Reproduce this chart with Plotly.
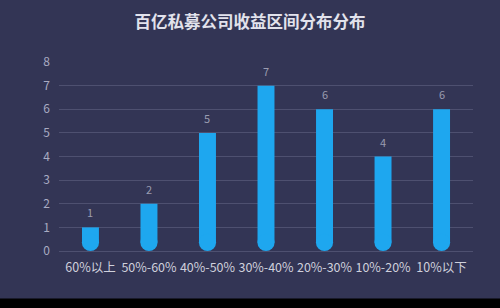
import plotly.graph_objects as go

categories = ["60%以上", "50%-60%", "40%-50%", "30%-40%", "20%-30%", "10%-20%", "10%以下"]
values = [1, 2, 5, 7, 6, 4, 6]
y_ticks = [0, 1, 2, 3, 4, 5, 6, 7, 8]

BG = "#333555"
BAR = "#1ea7ef"
R = 0.365  # radius of rounded bar bottom, in data units

fig = go.Figure()
fig.add_trace(go.Bar(
    x=categories, y=[v - R for v in values], base=R,
    marker=dict(color=BAR, line=dict(width=0)),
    width=0.29, hoverinfo="skip",
))
fig.add_trace(go.Scatter(
    x=categories, y=[R] * len(values), mode="markers",
    marker=dict(symbol="circle", size=17.2, color=BAR, line=dict(width=0)),
    hoverinfo="skip",
))

annotations = [
    dict(x=c, y=v, text=str(v), showarrow=False, yshift=15, xref="x", yref="y",
         font=dict(color="#9a9cb0", size=11, family="Noto Sans CJK SC"))
    for c, v in zip(categories, values)
]

fig.update_layout(
    width=500, height=308,
    paper_bgcolor=BG, plot_bgcolor=BG,
    margin=dict(l=59, r=27, t=62, b=57),
    showlegend=False,
    bargap=0.71,
    annotations=annotations,
    title=dict(text="<b>百亿私募公司收益区间分布分布</b>", x=0.5, xanchor="center",
               y=1 - 22 / 308, yanchor="middle",
               font=dict(family="Noto Sans CJK SC", size=16.5, color="#e2e2ec")),
    xaxis=dict(showgrid=False, zeroline=False, showline=False, ticks="",
               ticklabelstandoff=7,
               tickfont=dict(family="Noto Sans CJK SC", size=12.5, color="#cfd0dc")),
    yaxis=dict(range=[0, 8], tickvals=y_ticks, showgrid=True, gridcolor="#4e5070",
               gridwidth=1, zeroline=True, zerolinecolor="#4e5070", zerolinewidth=1,
               ticks="", ticklen=0, ticklabelstandoff=8,
               tickfont=dict(family="Noto Sans CJK SC", size=12, color="#a9abc2")),
    shapes=[dict(type="rect", xref="paper", yref="paper", x0=-0.2, x1=1.1,
                 y0=-0.251, y1=-0.45, fillcolor="#000000", line=dict(width=0), layer="above")],
)

fig.write_html("out.html")
